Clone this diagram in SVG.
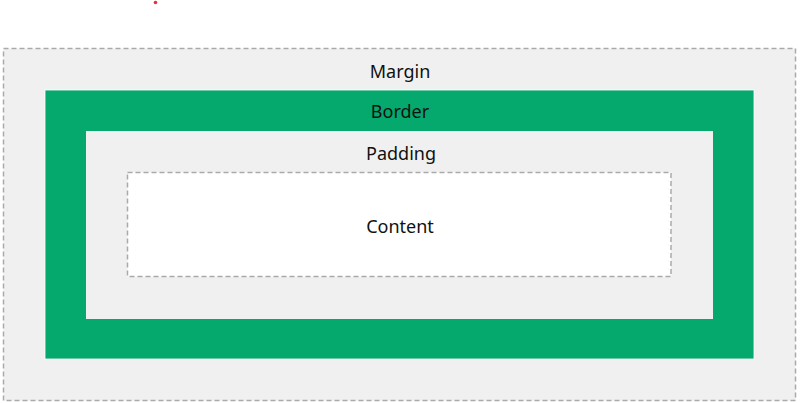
<svg xmlns="http://www.w3.org/2000/svg" width="800" height="403" viewBox="0 0 800 403">
<style>
.lbl{font-family:"Noto Sans","Open Sans",sans-serif;font-size:18px;fill:#111;text-anchor:middle}
.dash{stroke:#aaaaaa;stroke-width:1.5;stroke-dasharray:5 3}
</style>
<rect width="800" height="403" fill="#ffffff"/>
<circle cx="155.5" cy="2.5" r="1.8" fill="#e8303a"/>
<g id="margin">
<rect x="3.5" y="48.5" width="792" height="352" fill="#f0f0f0" class="dash"/>
<text class="lbl" x="400" y="78">Margin</text>
</g>
<g id="border">
<rect x="45" y="90" width="709" height="269" fill="#05a86d" stroke="#ffffff" stroke-width="0.8"/>
<text class="lbl" x="400" y="118">Border</text>
</g>
<g id="padding">
<rect x="86" y="131" width="627" height="188" fill="#f0f0f0"/>
<text class="lbl" x="401" y="160">Padding</text>
</g>
<g id="content">
<rect x="127.5" y="172.5" width="543.5" height="104" fill="#ffffff" class="dash"/>
<text class="lbl" x="400" y="233">Content</text>
</g>
<g id="connectors"/>
</svg>
